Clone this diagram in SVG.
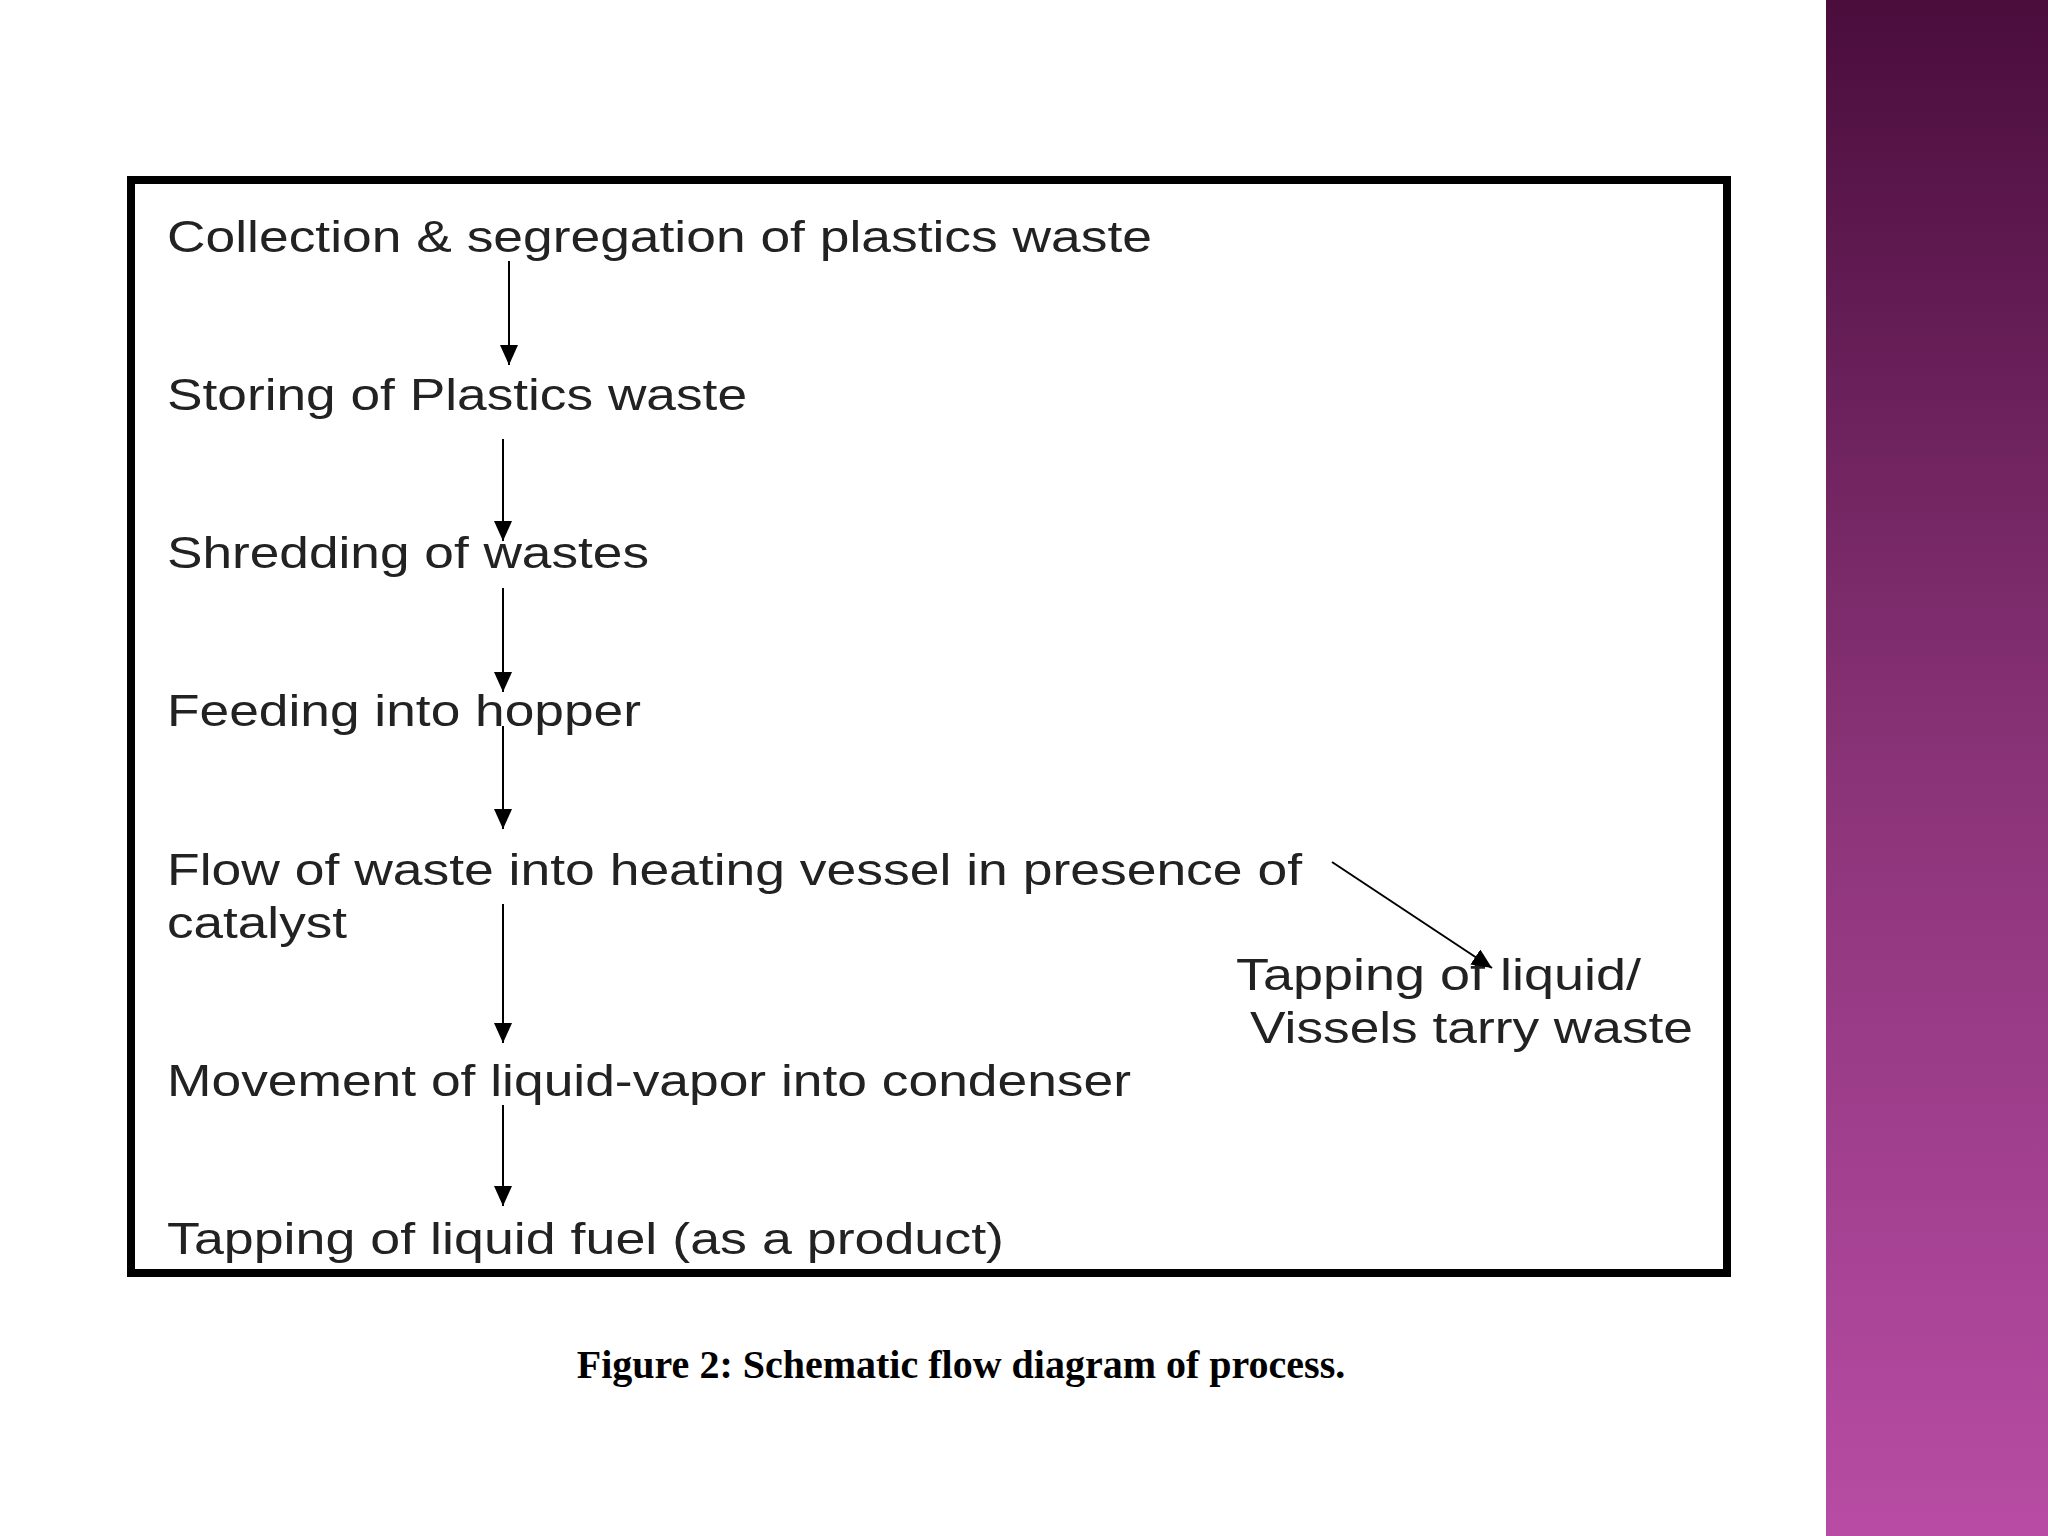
<svg xmlns="http://www.w3.org/2000/svg" width="2048" height="1536" viewBox="0 0 2048 1536">
<defs>
<linearGradient id="band" x1="0" y1="0" x2="0" y2="1">
<stop offset="0" stop-color="#4a0d3c"/>
<stop offset="0.5" stop-color="#8a3378"/>
<stop offset="1" stop-color="#b84ca4"/>
</linearGradient>
<marker id="ah" markerWidth="20" markerHeight="18" refX="20" refY="9" orient="auto" markerUnits="userSpaceOnUse" viewBox="0 0 20 18">
<path d="M0,0 L20,9 L0,18 z" fill="#000"/>
</marker>
<style>
.t{font-family:"Liberation Sans",Arial,sans-serif;font-size:44px;fill:#222;lengthAdjust:spacingAndGlyphs}
.c{stroke:#000;stroke-width:2;fill:none;marker-end:url(#ah)}
</style>
</defs>
<rect width="2048" height="1536" fill="#fff"/>
<rect x="1826" y="0" width="222" height="1536" fill="url(#band)"/>
<rect x="131" y="180" width="1596" height="1093" fill="none" stroke="#000" stroke-width="8"/>
<g id="n1"><text class="t" x="167" y="252" textLength="985" lengthAdjust="spacingAndGlyphs">Collection &amp; segregation of plastics waste</text></g>
<g id="n2"><text class="t" x="167" y="410" textLength="580" lengthAdjust="spacingAndGlyphs">Storing of Plastics waste</text></g>
<g id="n3"><text class="t" x="167" y="568" textLength="482" lengthAdjust="spacingAndGlyphs">Shredding of wastes</text></g>
<g id="n4"><text class="t" x="167" y="726" textLength="474" lengthAdjust="spacingAndGlyphs">Feeding into hopper</text></g>
<g id="n5"><text class="t" x="167" y="885" textLength="1135" lengthAdjust="spacingAndGlyphs">Flow of waste into heating vessel in presence of</text><text class="t" x="167" y="938" textLength="180" lengthAdjust="spacingAndGlyphs">catalyst</text></g>
<g id="n6"><text class="t" x="1236" y="990" textLength="405" lengthAdjust="spacingAndGlyphs">Tapping of liquid/</text><text class="t" x="1250" y="1043" textLength="443" lengthAdjust="spacingAndGlyphs">Vissels tarry waste</text></g>
<g id="n7"><text class="t" x="167" y="1096" textLength="964" lengthAdjust="spacingAndGlyphs">Movement of liquid-vapor into condenser</text></g>
<g id="n8"><text class="t" x="167" y="1254" textLength="837" lengthAdjust="spacingAndGlyphs">Tapping of liquid fuel (as a product)</text></g>
<g id="connectors">
<line class="c" x1="509" y1="261" x2="509" y2="365"/>
<line class="c" x1="503" y1="439" x2="503" y2="541"/>
<line class="c" x1="503" y1="588" x2="503" y2="692"/>
<line class="c" x1="503" y1="726" x2="503" y2="829"/>
<line class="c" x1="503" y1="904" x2="503" y2="1043"/>
<line class="c" x1="503" y1="1105" x2="503" y2="1206"/>
<line class="c" x1="1332" y1="862" x2="1492" y2="968"/>
</g>
<text x="961" y="1378" text-anchor="middle" font-family="Liberation Serif,'Times New Roman',serif" font-weight="bold" font-size="40" fill="#000">Figure 2: Schematic flow diagram of process.</text>
</svg>
